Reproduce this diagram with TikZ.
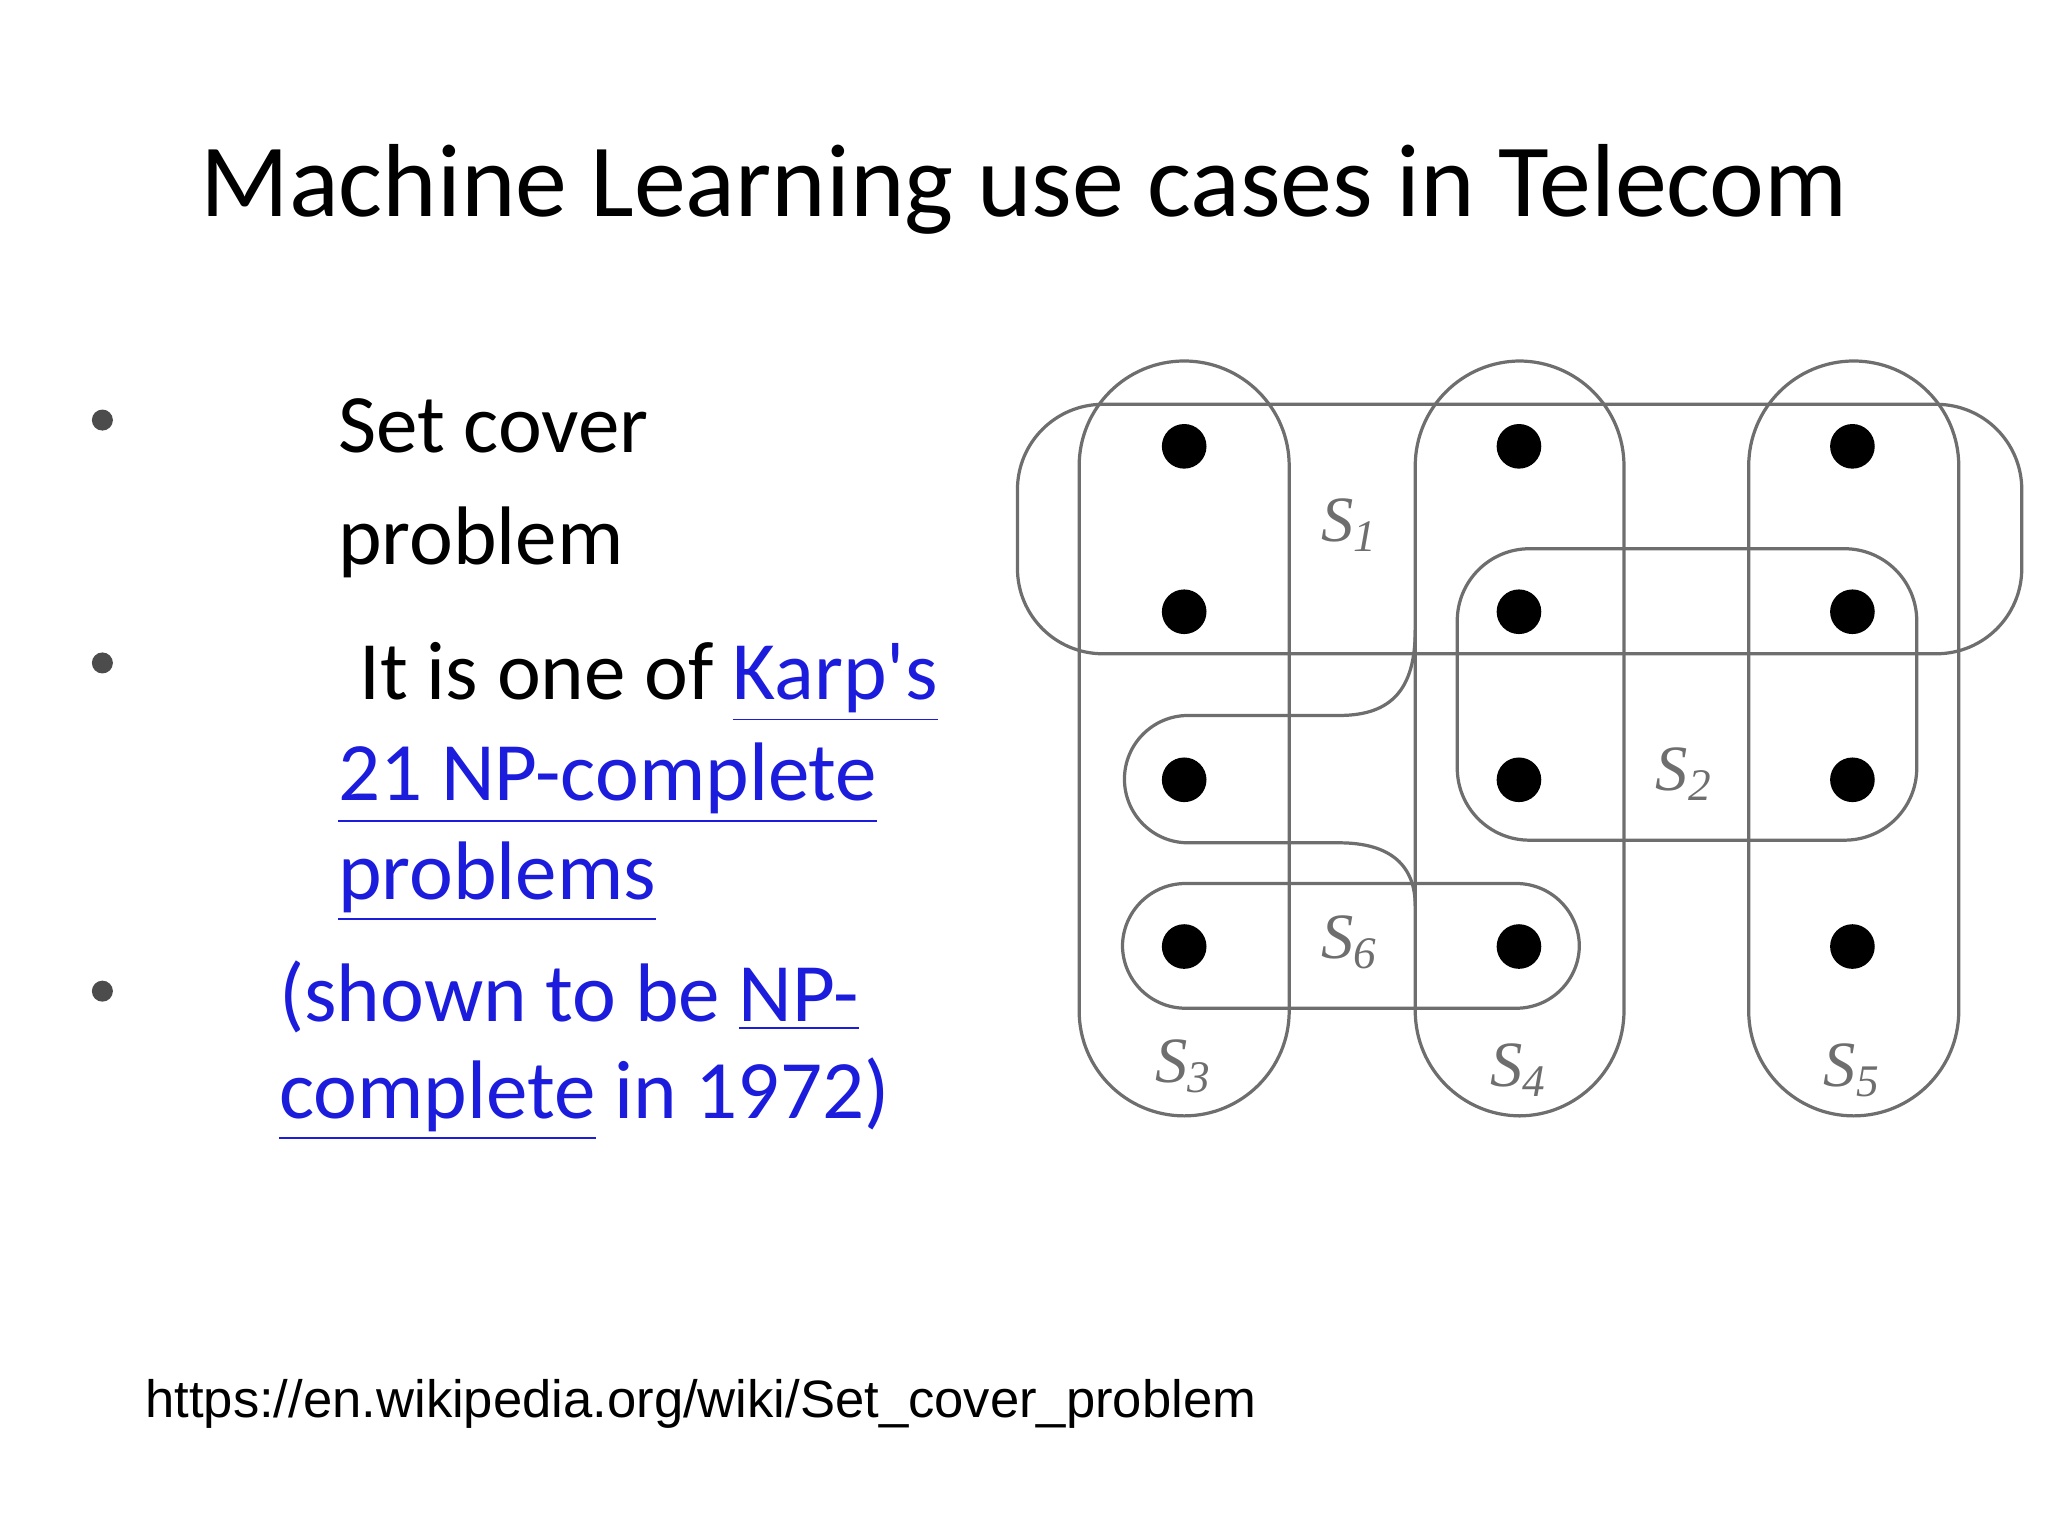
\documentclass[tikz,border=0pt]{standalone}
\usepackage{fontspec}
\usepackage{textcomp}
\setmainfont{Carlito}
\newfontfamily\urlfont{Liberation Sans}
\newfontfamily\setfont{Liberation Serif}
\definecolor{linkblue}{RGB}{28,28,220}
\definecolor{setgray}{RGB}{110,110,110}
\begin{document}
\begin{tikzpicture}[x=1cm,y=1cm,
  dot/.style={circle,fill=black,inner sep=0pt,minimum size=0.34cm},
  set/.style={draw=setgray,line width=0.7pt,rounded corners=#1},
  setlabel/.style={font=\setfont\itshape\fontsize{14}{14}\selectfont,text=setgray},
  bullet/.style={circle,fill=black!70,inner sep=0pt,minimum size=0.16cm},
  body/.style={anchor=base west,font=\fontsize{18}{22}\selectfont,inner sep=0pt}]
\useasboundingbox (0,0) rectangle (15.6,11.7);
% title
\node[anchor=base,font=\fontsize{22.5}{27}\selectfont] (title) at (7.8,10.05) {Machine Learning use cases in Telecom};
% bullets
\node[bullet] (b1) at (0.78,8.5) {};
\node[bullet] (b2) at (0.78,6.65) {};
\node[bullet] (b3) at (0.78,4.15) {};
\node[body] (t1) at (2.57,8.25) {Set cover};
\node[body] (t2) at (2.57,7.40) {problem};
\node[body] (t3) at (2.73,6.37) {It is one of \textcolor{linkblue}{\underline{Karp\textquotesingle s}}};
\node[body,text=linkblue] (t4) at (2.57,5.60) {\underline{21 NP-complete}};
\node[body,text=linkblue] (t5) at (2.57,4.85) {\underline{problems}};
\node[body,text=linkblue] (t6) at (2.12,3.92) {(shown to be \underline{NP-}};
\node[body,text=linkblue] (t7) at (2.12,3.18) {\underline{complete} in 1972)};
\node[anchor=base west,font=\urlfont\fontsize{11.4}{13}\selectfont,inner sep=0pt] (url) at (1.1,0.9) {https://en.wikipedia.org/wiki/Set\_cover\_problem};
% sets
\draw[set=0.65cm] (7.75,6.72) rectangle (15.40,8.62);
\draw[set=0.55cm] (11.10,5.30) rectangle (14.60,7.52);
\draw[set=0.8cm] (8.22,3.20) rectangle (9.82,8.95);
\draw[set=0.8cm] (10.78,3.20) rectangle (12.37,8.95);
\draw[set=0.8cm] (13.32,3.20) rectangle (14.92,8.95);
\draw[set=0.48cm] (8.55,4.02) rectangle (12.03,4.97);
\draw[setgray,line width=0.7pt] (10.78,6.90) .. controls (10.78,6.45) and (10.60,6.25) .. (10.20,6.25)
  -- (9.05,6.25) arc (90:270:0.485) -- (10.20,5.28) .. controls (10.60,5.28) and (10.78,5.10) .. (10.78,4.80);
% elements
\foreach \i/\x in {1/9.02,2/11.57,3/14.11}
  \foreach \j/\y in {1/8.30,2/7.04,3/5.76,4/4.49}
    \node[dot] (e\i\j) at (\x,\y) {};
% labels
\node[setlabel] (s1) at (10.28,7.70) {S\textsubscript{1}};
\node[setlabel] (s2) at (12.83,5.80) {S\textsubscript{2}};
\node[setlabel] (s6) at (10.28,4.52) {S\textsubscript{6}};
\node[setlabel] (s3) at (9.02,3.58) {S\textsubscript{3}};
\node[setlabel] (s4) at (11.57,3.55) {S\textsubscript{4}};
\node[setlabel] (s5) at (14.11,3.55) {S\textsubscript{5}};
\end{tikzpicture}
\end{document}
